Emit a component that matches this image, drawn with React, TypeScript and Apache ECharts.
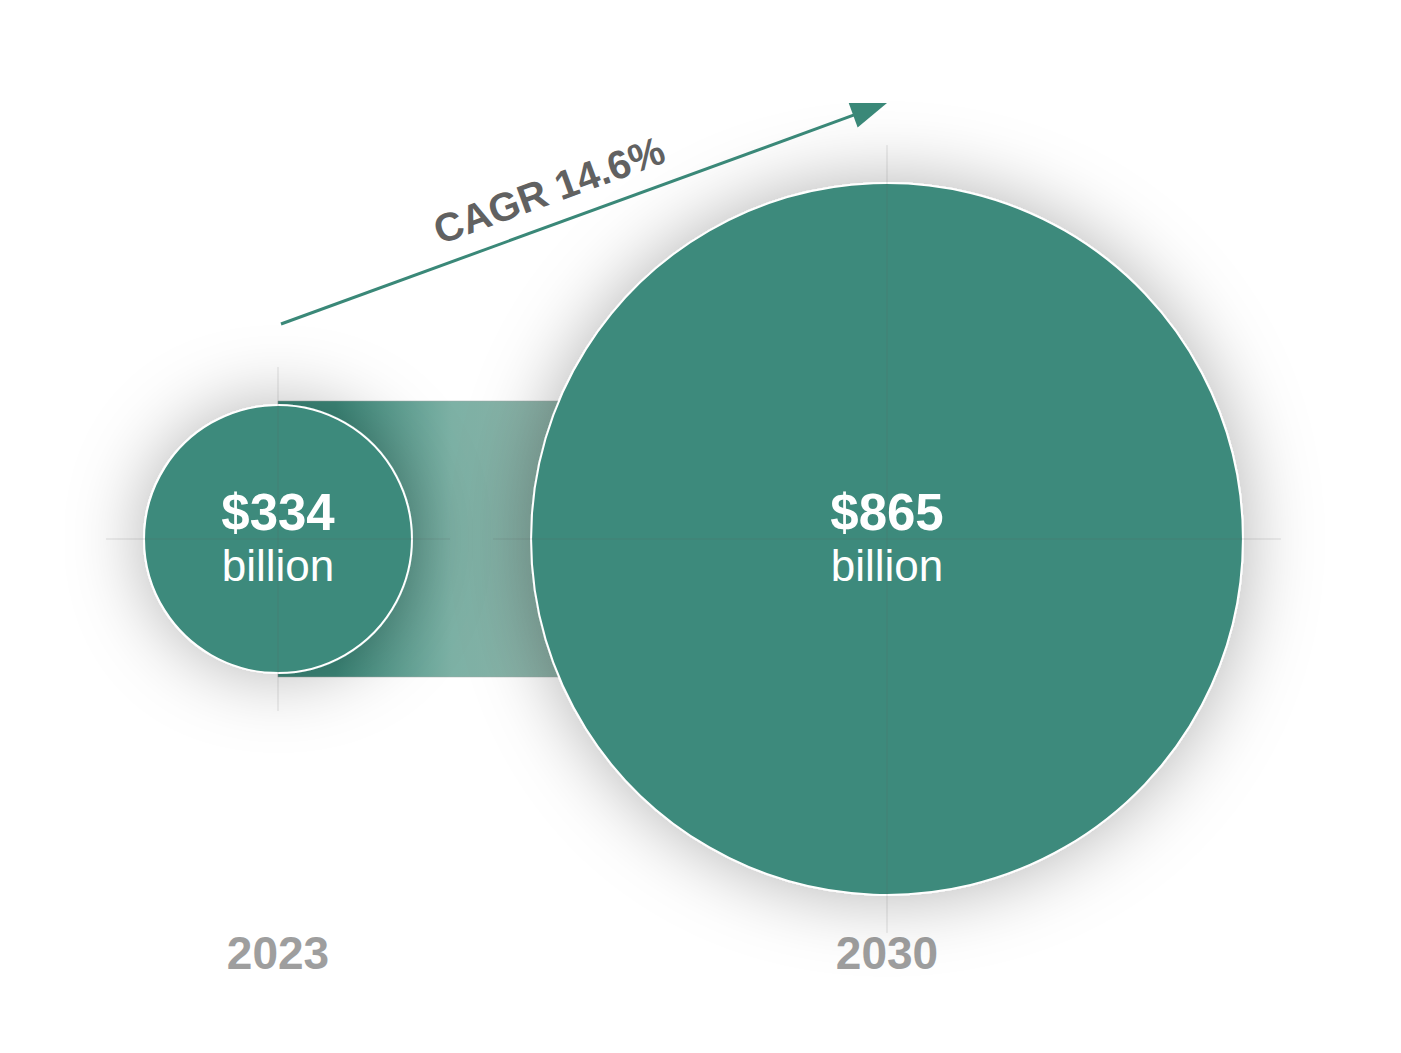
import React, { useEffect, useRef } from "react";
import * as echarts from "echarts";

const years = [2023, 2030];
const values = [334, 865];
const valueLabels = ["$334", "$865"];
const unitLabel = "billion";
const cagrLabel = "CAGR 14.6%";

const TEAL = "#3d8a7b";
const FONT = "'Liberation Sans', Arial, sans-serif";

const sizeOf = (v: number) => 0.836 * v - 11.3;

export default function App() {
  const ref = useRef<HTMLDivElement>(null);
  useEffect(() => {
    if (!ref.current) return;
    const chart = echarts.init(ref.current, undefined, { renderer: "svg" });
    const data = years.map((y, i) => ({
      value: [y, 0, values[i]],
      label: { formatter: `{a|${valueLabels[i]}}\n{b|${unitLabel}}` },
    }));
    chart.setOption({
      animation: false,
      backgroundColor: "#ffffff",
      grid: { left: 104, right: 340, top: 158, bottom: 133 },
      xAxis: {
        type: "value",
        min: 2021,
        max: 2032,
        axisLine: { show: false },
        axisTick: { show: false },
        splitLine: { show: false },
        axisLabel: {
          customValues: years,
          margin: 10,
          fontSize: 46,
          fontWeight: "bold",
          color: "#9e9e9e",
          fontFamily: FONT,
          formatter: (v: number) => String(v),
        },
      },
      yAxis: { type: "value", min: -1, max: 1, show: false },
      series: [
        {
          type: "scatter",
          z: 2,
          clip: false,
          data,
          symbol: "circle",
          symbolSize: (val: number[]) => sizeOf(val[2]),
          itemStyle: {
            color: TEAL,
            opacity: 1,
            borderColor: "#ffffff",
            borderWidth: 2,
            shadowBlur: 75,
            shadowColor: "rgba(0,0,0,0.3)",
          },
          label: {
            show: true,
            position: "inside",
            color: "#ffffff",
            rich: {
              a: { fontSize: 51, fontWeight: "bold", color: "#fff", fontFamily: FONT, lineHeight: 53 },
              b: { fontSize: 44, color: "#fff", fontFamily: FONT, lineHeight: 53 },
            },
          },
          emphasis: { disabled: true },
        },
      ],
    });

    const p1 = chart.convertToPixel({ gridIndex: 0 }, [years[0], 0]) as number[];
    const p2 = chart.convertToPixel({ gridIndex: 0 }, [years[1], 0]) as number[];
    const r1 = sizeOf(values[0]) / 2;
    const r2 = sizeOf(values[1]) / 2;
    const lineStyle = { stroke: "rgba(90,90,90,0.2)", lineWidth: 1 };
    const cross = (p: number[], r: number) => {
      const e = r + 38;
      return [
        { type: "line", z: 10, silent: true, shape: { x1: p[0] - e, y1: p[1], x2: p[0] + e, y2: p[1] }, style: lineStyle },
        { type: "line", z: 10, silent: true, shape: { x1: p[0], y1: p[1] - e, x2: p[0], y2: p[1] + e }, style: lineStyle },
      ];
    };

    // band between circles
    const bandH = r1 + 4;
    const bandX2 = p2[0] - r2 * 0.9;
    const band = {
      type: "rect",
      z: 1,
      silent: true,
      shape: { x: p1[0], y: p1[1] - bandH, width: bandX2 - p1[0], height: bandH * 2 },
      style: {
        fill: new echarts.graphic.LinearGradient(0, 0, 1, 0, [
          { offset: 0, color: TEAL },
          { offset: 0.2, color: TEAL },
          { offset: 0.6, color: "#7cb1a5" },
          { offset: 1, color: "#90b2a8" },
        ]),
        stroke: "rgba(160,170,168,0.5)",
        lineWidth: 1,
      },
    };

    // CAGR arrow
    const sx = p1[0] + 3, sy = 324;
    const tx = p2[0], ty = 103;
    const dx = tx - sx, dy = ty - sy;
    const len = Math.sqrt(dx * dx + dy * dy);
    const ux = dx / len, uy = dy / len;
    const nx = -uy, ny = ux;
    const headL = 36, headW = 13;
    const bx = tx - ux * headL, by = ty - uy * headL;
    const angle = Math.atan2(-dy, dx);
    const arrow = [
      { type: "line", z: 10, silent: true, shape: { x1: sx, y1: sy, x2: bx + ux * 4, y2: by + uy * 4 }, style: { stroke: "#3a8878", lineWidth: 3 } },
      {
        type: "polygon",
        z: 10,
        silent: true,
        shape: { points: [[tx, ty], [bx + nx * headW, by + ny * headW], [bx - nx * headW, by - ny * headW]] },
        style: { fill: "#3a8878" },
      },
      {
        type: "text",
        z: 10,
        silent: true,
        x: 549,
        y: 190,
        rotation: angle,
        style: {
          text: cagrLabel,
          fill: "#616161",
          font: `bold 40px ${FONT}`,
          align: "center",
          verticalAlign: "middle",
        },
      },
    ];

    chart.setOption({
      graphic: [band, ...cross(p1, r1), ...cross(p2, r2), ...arrow],
    });
    return () => chart.dispose();
  }, []);
  return <div ref={ref} style={{ position: "absolute", left: 0, top: 0, width: 1401, height: 1053 }} />;
}
